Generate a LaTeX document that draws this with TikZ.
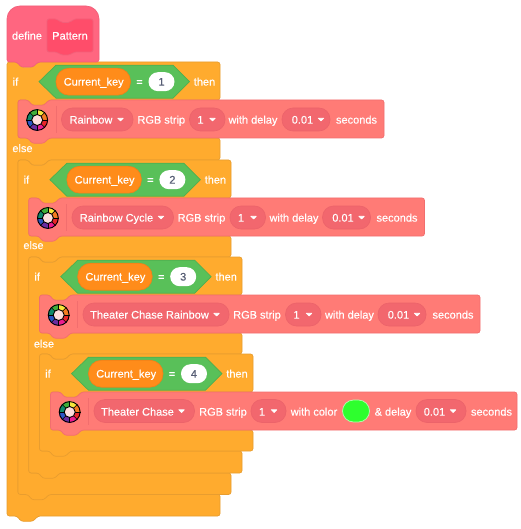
\documentclass[tikz,border=0pt]{standalone}
\usepackage{fontspec}
\setmainfont{Liberation Sans}[FakeBold=0.35]
\definecolor{ctrl}{HTML}{FFAB2E}
\definecolor{ctrlb}{HTML}{E89D2F}
\definecolor{hat}{HTML}{FF6680}
\definecolor{hatin}{HTML}{FF4D6A}
\definecolor{hatb}{HTML}{F2607A}
\definecolor{ext}{HTML}{FF7B76}
\definecolor{extb}{HTML}{F26E6E}
\definecolor{drop}{HTML}{F2676E}
\definecolor{dropb}{HTML}{EC636A}
\definecolor{opg}{HTML}{59C059}
\definecolor{opgb}{HTML}{4FAE4F}
\definecolor{var}{HTML}{FF8C1A}
\definecolor{varb}{HTML}{F08018}
\definecolor{numt}{HTML}{575E75}
\definecolor{picked}{HTML}{2EFF2E}
\tikzset{
  ctrlblock/.style={fill=ctrl,draw=ctrlb,line width=.7pt,rounded corners=2.5pt,line join=round},
  extblock/.style={fill=ext,draw=extb,line width=.7pt,rounded corners=2.5pt,line join=round},
  hatblock/.style={fill=hat,draw=hatb,line width=.7pt,line join=round},
  hatinner/.style={fill=hatin,draw=hatb,line width=.7pt,rounded corners=2pt,line join=round},
  lbl/.style={text=white,inner sep=0pt,text height=8.2pt,text depth=0pt,yshift=.5pt,font=\fontsize{11}{13}\selectfont},
  numlbl/.style={lbl,text=numt},
  ddpill/.style={fill=drop,draw=dropb,line width=.6pt,rounded corners=11pt,inner sep=0pt},
  varpill/.style={fill=var,draw=varb,line width=.6pt,rounded corners=13pt,inner sep=0pt},
  numpill/.style={fill=white,rounded corners=9.5pt,inner sep=0pt},
  colpill/.style={fill=picked,draw=white!70!green,line width=.7pt,rounded corners=11pt,inner sep=0pt},
  opblock/.style={fill=opg,draw=opgb,line width=.7pt,line join=miter},
  sepline/.style={draw=extb,line width=.7pt},
  tri/.style={fill=white,draw=white,line width=.7pt,line join=round},
}
% #1 name #2 x1 #3 x2 #4 ycentre #5 height #6 style
\newcommand{\mypill}[6]{%
  \pgfmathsetmacro\pw{#3-(#2)}\pgfmathsetmacro\pc{(#2+#3)/2}%
  \node[#6,minimum width=\pw pt,minimum height=#5pt] (#1) at (\pc,#4) {};}
\newcommand{\tx}[5][lbl]{\node[#1] (#2) at (#3,#4) {#5};}
\newcommand{\ddtri}[2]{\path[tri] (#1-2.7,#2-1.2) -- (#1+2.7,#2-1.2) -- (#1,#2+1.5) -- cycle;}
% if/else block: #1 x #2 R #3 y0 #4 y1 #5 y2 #6 y3 #7 y4 #8 y5
\newcommand{\ifelse}[8]{%
  \path[ctrlblock] (#1,#3) -- (#1+10,#3) -- (#1+14,#3+5.3) -- (#1+26,#3+5.3) -- (#1+31,#3) -- (#2,#3) -- (#2,#4)
   -- (#1+41.9,#4) -- (#1+36.9,#4+5.3) -- (#1+24.9,#4+5.3) -- (#1+20.9,#4) -- (#1+10.9,#4)
   -- (#1+10.9,#5) -- (#2,#5) -- (#2,#6)
   -- (#1+41.9,#6) -- (#1+36.9,#6+5.3) -- (#1+24.9,#6+5.3) -- (#1+20.9,#6) -- (#1+10.9,#6)
   -- (#1+10.9,#7) -- (#2,#7) -- (#2,#8)
   -- (#1+31,#8) -- (#1+26,#8+5.3) -- (#1+14,#8+5.3) -- (#1+10,#8) -- (#1,#8) -- cycle;}
% plain if: #1 x #2 R #3 y0 #4 y1 #5 y2 #6 y3
\newcommand{\plainif}[6]{%
  \path[ctrlblock] (#1,#3) -- (#1+10,#3) -- (#1+14,#3+5.3) -- (#1+26,#3+5.3) -- (#1+31,#3) -- (#2,#3) -- (#2,#4)
   -- (#1+41.9,#4) -- (#1+36.9,#4+5.3) -- (#1+24.9,#4+5.3) -- (#1+20.9,#4) -- (#1+10.9,#4)
   -- (#1+10.9,#5) -- (#2,#5) -- (#2,#6)
   -- (#1+31,#6) -- (#1+26,#6+5.3) -- (#1+14,#6+5.3) -- (#1+10,#6) -- (#1,#6) -- cycle;}
% head of an if: #1 prefix #2 x #3 y0 #4 number
\newcommand{\ifhead}[4]{%
  \tx{#1if}{#2+8.5}{#3+20}{if}
  \path[opblock] (#2+32,#3+19.7) -- (#2+49,#3+3.2) -- (#2+166,#3+3.2) -- (#2+182.5,#3+19.7) -- (#2+166,#3+36.2) -- (#2+49,#3+36.2) -- cycle;
  \mypill{#1var}{#2+49}{#2+123.5}{#3+19.7}{27}{varpill}
  \tx{#1vart}{#2+86.7}{#3+20}{Current\_key}
  \tx{#1eq}{#2+132.5}{#3+20}{=}
  \mypill{#1num}{#2+141.5}{#2+167.5}{#3+19.7}{19}{numpill}
  \tx[numlbl]{#1numt}{#2+154.5}{#3+20}{#4}
  \tx{#1then}{#2+197.5}{#3+20}{then}}
% extension block: #1 x #2 R #3 y0 (38 high)
\newcommand{\extbody}[3]{%
  \path[extblock] (#1,#3) -- (#1+10,#3) -- (#1+14,#3+5.3) -- (#1+26,#3+5.3) -- (#1+31,#3) -- (#2,#3) -- (#2,#3+38)
   -- (#1+31,#3+38) -- (#1+26,#3+43.3) -- (#1+14,#3+43.3) -- (#1+10,#3+38) -- (#1,#3+38) -- cycle;
  \draw[sepline] (#1+38,#3+6) -- (#1+38,#3+33);
  \wheel{#1+19.2}{#3+20}}
\newcommand{\wheel}[2]{%
  \foreach \a/\c in {90/F7E63B,45/F47B20,0/E8262A,-45/EC1C8E,-90/6A2CA0,-135/2B55C4,180/0F8A6A,135/3FAE3A}{%
    \definecolor{wc}{HTML}{\c}%
    \pgfmathsetmacro\e{\a-45}%
    \fill[wc] (#1,#2) -- ++(\a:10.8pt) arc[start angle=\a,end angle=\e,radius=10.8pt] -- cycle;}
  \foreach \a in {90,45,...,-225}{\draw[black,line width=.6pt] (#1,#2) -- ++(\a:10.8pt);}
  \draw[black,line width=.9pt] (#1,#2) circle[radius=10.4pt];
  \draw[black,fill=white!75!ext,line width=.9pt] (#1,#2) circle[radius=5.5pt];}
\begin{document}
\begin{tikzpicture}[x=1pt,y=-1pt]
\useasboundingbox (0,0) rectangle (520,529);
\fill[white] (0,0) rectangle (520,529);
% C-blocks, outermost first
\ifelse{7}{220}{62}{100}{138}{160}{494}{516}
\ifelse{17.9}{231}{160}{198}{236}{257}{473}{494.5}
\ifelse{28.7}{242}{257}{295}{333}{354}{451}{473}
\plainif{39.5}{253}{354}{392}{430}{451}
% hat
\path[hatblock] [rounded corners=13pt] (7,40) -- (7,6) -- (99,6) -- (99,40) [rounded corners=2.5pt] -- (99,62) -- (38,62) -- (33,67) -- (21,67) -- (17,62) -- (7,62) -- cycle;
\path[hatinner] (47,19) -- (57,19) -- (61,22.5) -- (70,22.5) -- (74,19) -- (93,19) -- (93,52) -- (74,52) -- (70,55) -- (61,55) -- (57,52) -- (47,52) -- cycle;
\tx{define}{27}{36}{define}
\tx{pattern}{70}{36}{Pattern}
% ---- row 1
\ifhead{a}{7}{62}{1}
\extbody{18}{384}{100}
\mypill{ap1}{61.5}{133}{119.5}{23}{ddpill}
\tx{at1}{91}{120}{Rainbow}
\ddtri{120.5}{119.5}
\tx{at2}{161.3}{120}{RGB strip}
\mypill{ap2}{189.5}{225}{119.5}{23}{ddpill}
\tx{at3}{200.5}{120}{1}
\ddtri{212.5}{119.5}
\tx{at4}{253}{120}{with delay}
\mypill{ap3}{282}{330}{119.5}{23}{ddpill}
\tx{at5}{302.5}{120}{0.01}
\ddtri{321}{119.5}
\tx{at6}{356.5}{120}{seconds}
\tx{aelse}{22.5}{148.5}{else}
% ---- row 2
\ifhead{b}{17.9}{160}{2}
\extbody{28.7}{424.5}{198}
\mypill{bp1}{72}{173.5}{217.5}{23}{ddpill}
\tx{bt1}{116.5}{218}{Rainbow Cycle}
\ddtri{161}{217.5}
\tx{bt2}{201.5}{218}{RGB strip}
\mypill{bp2}{230}{265.5}{217.5}{23}{ddpill}
\tx{bt3}{241}{218}{1}
\ddtri{253.5}{217.5}
\tx{bt4}{294}{218}{with delay}
\mypill{bp3}{322.5}{370.5}{217.5}{23}{ddpill}
\tx{bt5}{343}{218}{0.01}
\ddtri{361.5}{217.5}
\tx{bt6}{397}{218}{seconds}
\tx{belse}{33.5}{245.5}{else}
% ---- row 3
\ifhead{c}{28.7}{257}{3}
\extbody{39.5}{480}{295}
\mypill{cp1}{83}{229}{314.5}{23}{ddpill}
\tx{ct1}{149.5}{315}{Theater Chase Rainbow}
\ddtri{216.5}{314.5}
\tx{ct2}{257}{315}{RGB strip}
\mypill{cp2}{285.5}{321}{314.5}{23}{ddpill}
\tx{ct3}{296.5}{315}{1}
\ddtri{309}{314.5}
\tx{ct4}{349.5}{315}{with delay}
\mypill{cp3}{378}{426}{314.5}{23}{ddpill}
\tx{ct5}{398.5}{315}{0.01}
\ddtri{417}{314.5}
\tx{ct6}{453}{315}{seconds}
\tx{celse}{44}{344}{else}
% ---- row 4
\ifhead{d}{39.5}{354}{4}
\extbody{50.5}{517}{392}
\mypill{dp1}{94}{194.5}{411}{23}{ddpill}
\tx{dt1}{137.5}{412}{Theater Chase}
\ddtri{181.5}{411}
\tx{dt2}{223}{412}{RGB strip}
\mypill{dp2}{251}{286}{411}{23}{ddpill}
\tx{dt3}{262}{412}{1}
\ddtri{274}{411}
\tx{dt4}{314}{412}{with color}
\mypill{dcol}{342.5}{369.5}{411}{22}{colpill}
\tx{dt5}{393}{412}{\& delay}
\mypill{dp3}{416}{466}{411}{23}{ddpill}
\tx{dt6}{434.5}{412}{0.01}
\ddtri{453}{411}
\tx{dt7}{491.5}{412}{seconds}
\end{tikzpicture}
\end{document}
